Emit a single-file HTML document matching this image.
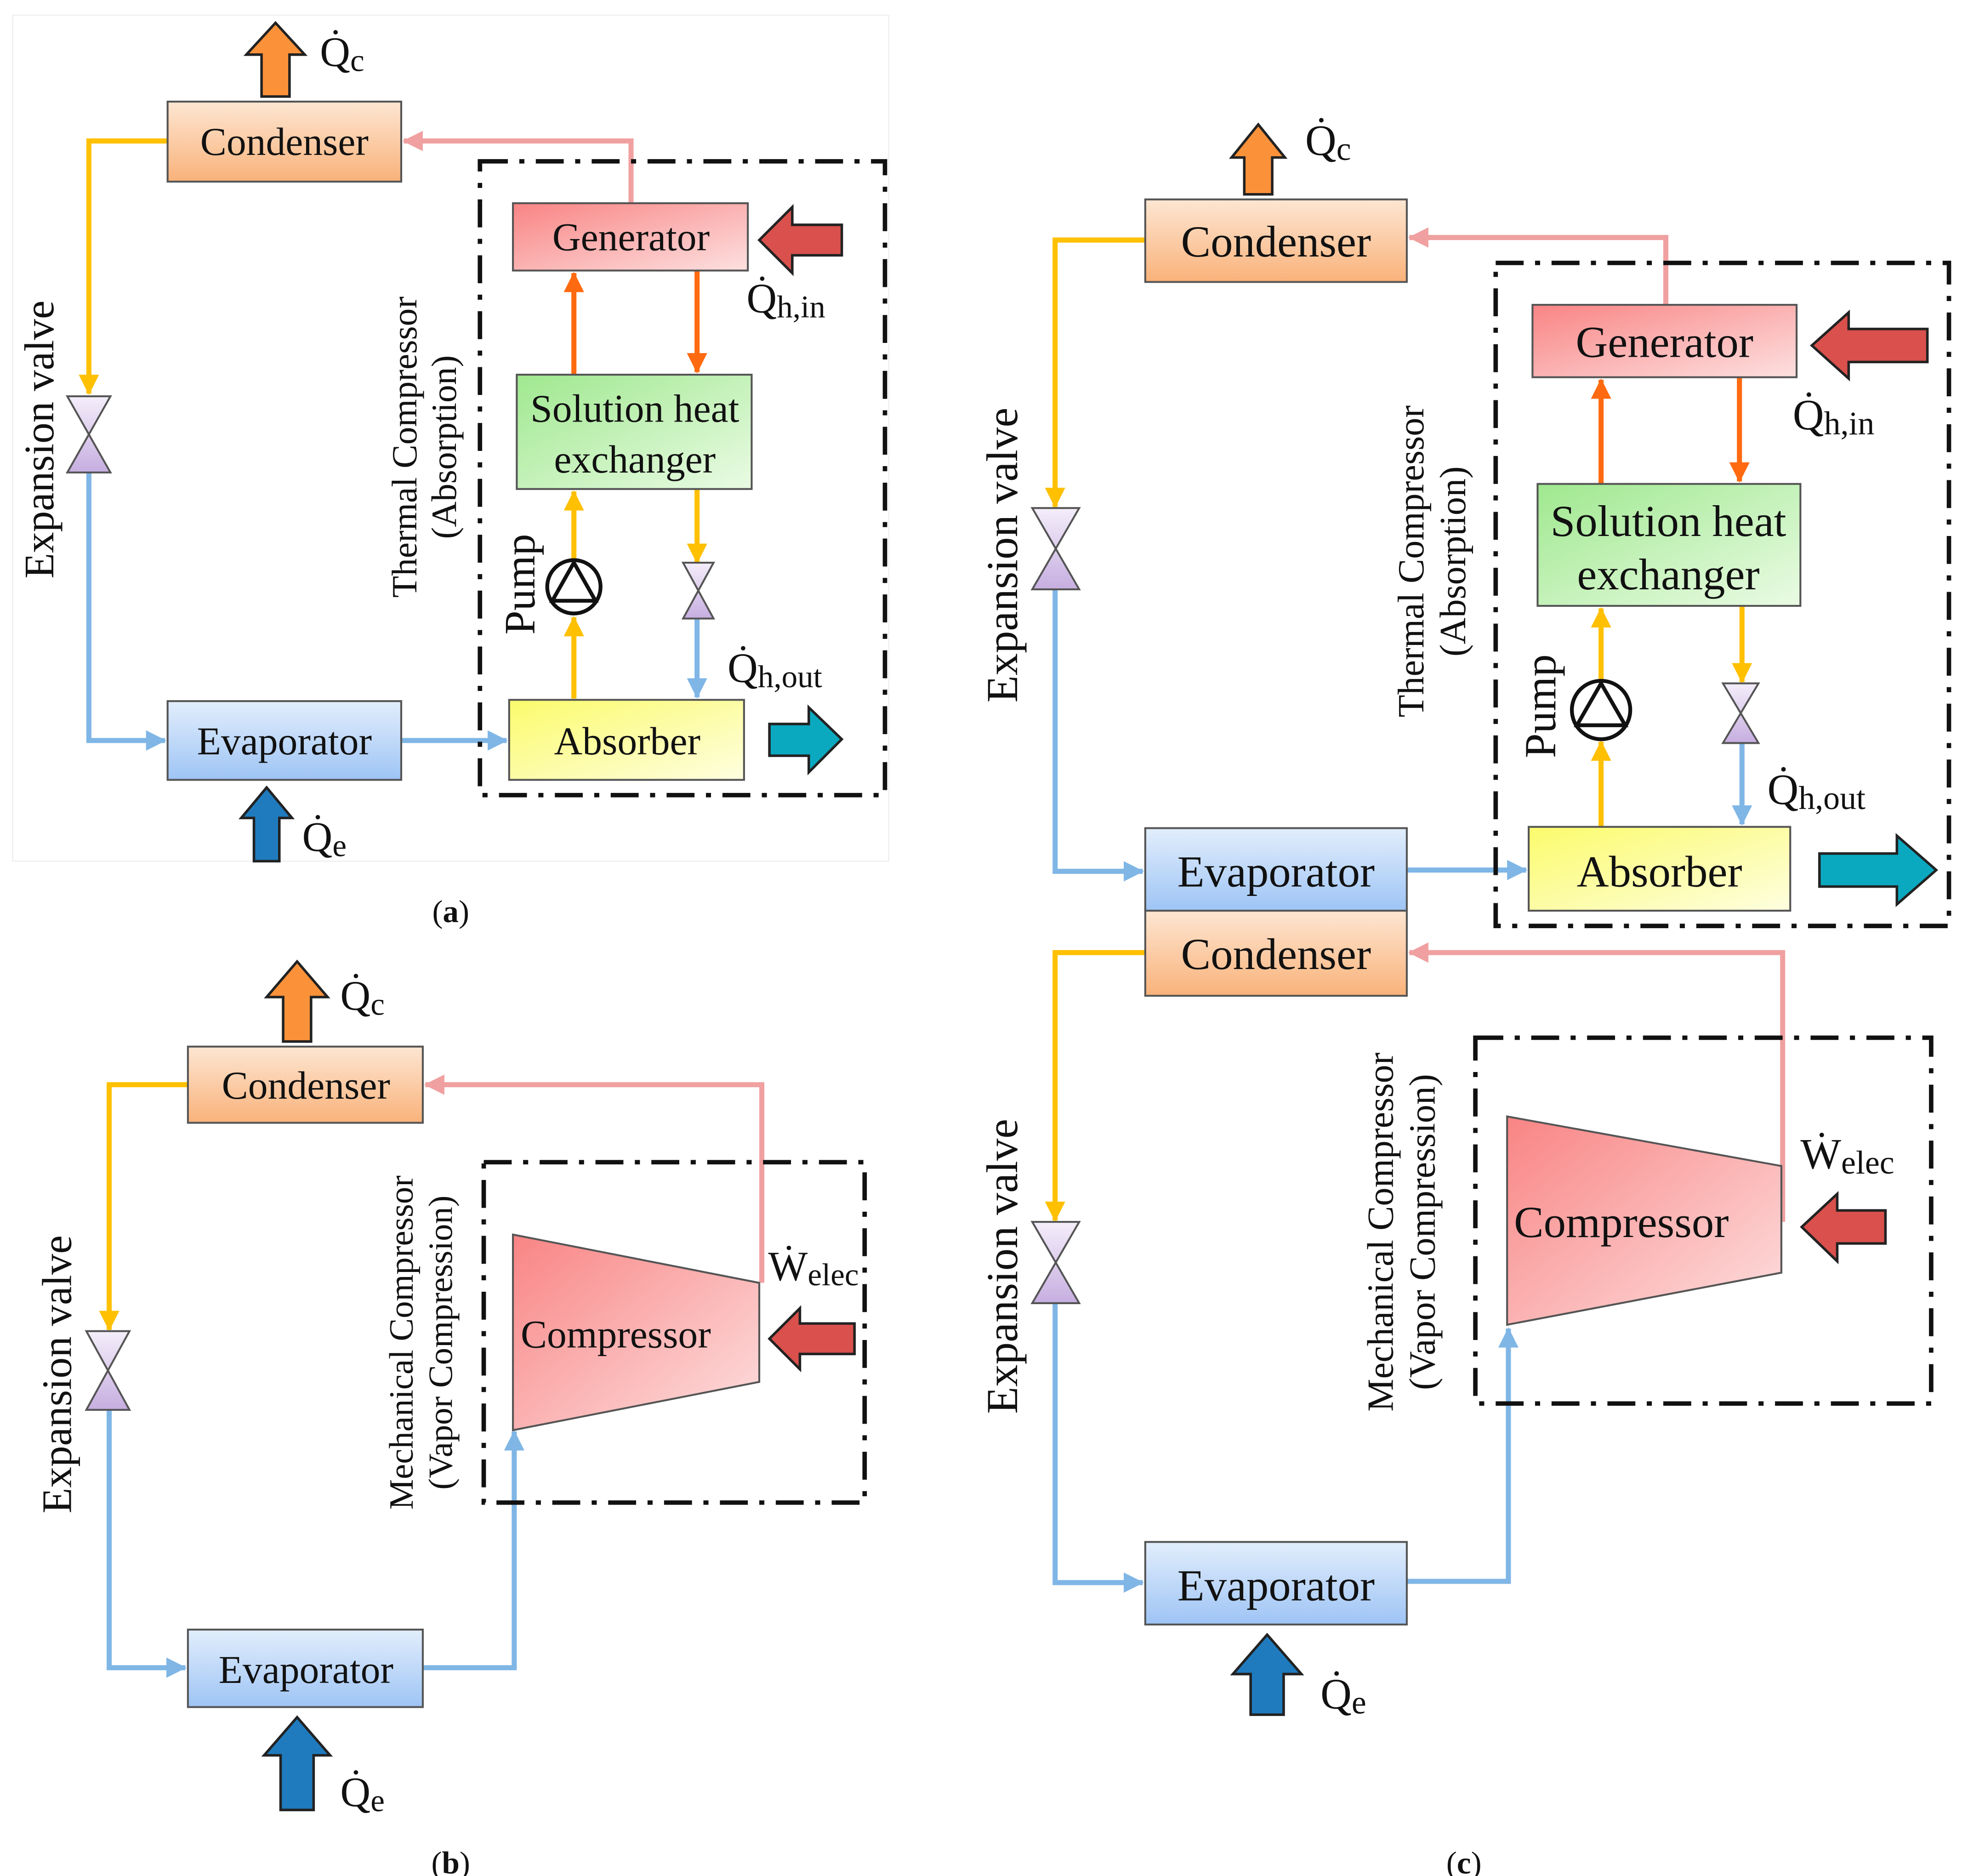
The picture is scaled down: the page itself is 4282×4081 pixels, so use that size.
<!DOCTYPE html>
<html><head><meta charset="utf-8"><style>
html,body{margin:0;padding:0;background:#fff;}
svg{display:block;}
text{font-family:"Liberation Serif",serif;fill:#111;}
</style></head><body>
<svg width="4282" height="4081" viewBox="0 0 1550 1477" preserveAspectRatio="none" xmlns="http://www.w3.org/2000/svg">
<defs>
<linearGradient id="gOr" x1="0" y1="0" x2="0" y2="1"><stop offset="0" stop-color="#fde6d2"/><stop offset="1" stop-color="#f9b27a"/></linearGradient>
<linearGradient id="gBl" x1="0" y1="0" x2="0" y2="1"><stop offset="0" stop-color="#e2eefc"/><stop offset="1" stop-color="#9ec4f5"/></linearGradient>
<linearGradient id="gRd" x1="0" y1="0" x2="1" y2="1"><stop offset="0" stop-color="#f98484"/><stop offset="1" stop-color="#fde0e0"/></linearGradient>
<linearGradient id="gGr" x1="0" y1="0" x2="1" y2="1"><stop offset="0" stop-color="#9fe88f"/><stop offset="1" stop-color="#eafbe4"/></linearGradient>
<linearGradient id="gYe" x1="0" y1="0" x2="1" y2="1"><stop offset="0" stop-color="#fbfb6c"/><stop offset="1" stop-color="#fefee0"/></linearGradient>
<linearGradient id="gVt" x1="0" y1="0" x2="0" y2="1"><stop offset="0" stop-color="#f4eefa"/><stop offset="1" stop-color="#c6aee0"/></linearGradient>
<marker id="mB" markerWidth="16" markerHeight="16" refX="15" refY="8" orient="auto" markerUnits="userSpaceOnUse"><path d="M0,0 L16,8 L0,16 Z" fill="#7fb6e6"/></marker>
<marker id="mYe" markerWidth="16" markerHeight="16" refX="15" refY="8" orient="auto" markerUnits="userSpaceOnUse"><path d="M0,0 L16,8 L0,16 Z" fill="#ffc000"/></marker>
<marker id="mO" markerWidth="16" markerHeight="16" refX="15" refY="8" orient="auto" markerUnits="userSpaceOnUse"><path d="M0,0 L16,8 L0,16 Z" fill="#ff6a10"/></marker>
<marker id="mP" markerWidth="16" markerHeight="16" refX="15" refY="8" orient="auto" markerUnits="userSpaceOnUse"><path d="M0,0 L16,8 L0,16 Z" fill="#f0a0a0"/></marker>
</defs>

<rect x="10" y="12" width="690" height="666" fill="none" stroke="#f0f0f0" stroke-width="1"/>

<g stroke-width="4" fill="none">
<polyline points="132,111 70,111 70,310" stroke="#ffc000" marker-end="url(#mYe)"/>
<polyline points="70,372 70,583 130,583" stroke="#7fb6e6" marker-end="url(#mB)"/>
<polyline points="316,583 399,583" stroke="#7fb6e6" marker-end="url(#mB)"/>
<polyline points="497,160 497,111 318,111" stroke="#f0a0a0" marker-end="url(#mP)"/>
<line x1="452" y1="295" x2="452" y2="215" stroke="#ff6a10" marker-end="url(#mO)"/>
<line x1="549" y1="213" x2="549" y2="293" stroke="#ff6a10" marker-end="url(#mO)"/>
<line x1="452" y1="550" x2="452" y2="486" stroke="#ffc000" marker-end="url(#mYe)"/>
<line x1="452" y1="440" x2="452" y2="387" stroke="#ffc000" marker-end="url(#mYe)"/>
<line x1="549" y1="385" x2="549" y2="443" stroke="#ffc000" marker-end="url(#mYe)"/>
<line x1="549" y1="487" x2="549" y2="549" stroke="#7fb6e6" marker-end="url(#mB)"/>

<polyline points="148,854 86,854 86,1047" stroke="#ffc000" marker-end="url(#mYe)"/>
<polyline points="86,1110 86,1313 146,1313" stroke="#7fb6e6" marker-end="url(#mB)"/>
<polyline points="333,1313 405,1313 405,1127" stroke="#7fb6e6" marker-end="url(#mB)"/>
<polyline points="600,1010 600,854 335,854" stroke="#f0a0a0" marker-end="url(#mP)"/>

<polyline points="902,189 831,189 831,399" stroke="#ffc000" marker-end="url(#mYe)"/>
<polyline points="831,464 831,686 900,686" stroke="#7fb6e6" marker-end="url(#mB)"/>
<polyline points="1108,685 1202,685" stroke="#7fb6e6" marker-end="url(#mB)"/>
<polyline points="1312,240 1312,187 1110,187" stroke="#f0a0a0" marker-end="url(#mP)"/>
<line x1="1261" y1="381" x2="1261" y2="299" stroke="#ff6a10" marker-end="url(#mO)"/>
<line x1="1370" y1="297" x2="1370" y2="379" stroke="#ff6a10" marker-end="url(#mO)"/>
<line x1="1261" y1="651" x2="1261" y2="584" stroke="#ffc000" marker-end="url(#mYe)"/>
<line x1="1261" y1="535" x2="1261" y2="479" stroke="#ffc000" marker-end="url(#mYe)"/>
<line x1="1372" y1="477" x2="1372" y2="537" stroke="#ffc000" marker-end="url(#mYe)"/>
<line x1="1372" y1="585" x2="1372" y2="649" stroke="#7fb6e6" marker-end="url(#mB)"/>
<polyline points="902,750 831,750 831,961" stroke="#ffc000" marker-end="url(#mYe)"/>
<polyline points="831,1026 831,1246 900,1246" stroke="#7fb6e6" marker-end="url(#mB)"/>
<polyline points="1108,1245 1188,1245 1188,1046" stroke="#7fb6e6" marker-end="url(#mB)"/>
<polyline points="1404,962 1404,750 1110,750" stroke="#f0a0a0" marker-end="url(#mP)"/>
</g>

<g fill="none" stroke="#111" stroke-width="3.5" stroke-dasharray="22,9,4,9">
<rect x="378" y="127" width="319" height="499"/>
<rect x="381" y="915" width="300" height="268"/>
<rect x="1178" y="207" width="357" height="522"/>
<rect x="1162" y="817" width="359" height="288"/>
</g>

<g stroke="#555" stroke-width="1.5">
<rect x="132" y="80" width="184" height="63" fill="url(#gOr)"/>
<rect x="132" y="552" width="184" height="62" fill="url(#gBl)"/>
<rect x="404" y="160" width="185" height="53" fill="url(#gRd)"/>
<rect x="407" y="295" width="185" height="90" fill="url(#gGr)"/>
<rect x="401" y="551" width="185" height="63" fill="url(#gYe)"/>
<rect x="148" y="824" width="185" height="60" fill="url(#gOr)"/>
<rect x="148" y="1283" width="185" height="61" fill="url(#gBl)"/>
<polygon points="404,972 598,1010 598,1088 404,1126" fill="url(#gRd)"/>
<rect x="902" y="157" width="206" height="65" fill="url(#gOr)"/>
<rect x="902" y="652" width="206" height="65" fill="url(#gBl)"/>
<rect x="902" y="717" width="206" height="67" fill="url(#gOr)"/>
<rect x="1207" y="240" width="208" height="57" fill="url(#gRd)"/>
<rect x="1211" y="381" width="207" height="96" fill="url(#gGr)"/>
<rect x="1204" y="651" width="206" height="66" fill="url(#gYe)"/>
<rect x="902" y="1214" width="206" height="65" fill="url(#gBl)"/>
<polygon points="1187,879 1403,918 1403,1002 1187,1043" fill="url(#gRd)"/>
</g>

<g stroke="#555" stroke-width="1.5" fill="url(#gVt)">
<polygon points="53,312 87,312 53,372 87,372"/>
<polygon points="538,443 562,443 538,487 562,487"/>
<polygon points="68,1048 102,1048 68,1110 102,1110"/>
<polygon points="813,400 850,400 813,464 850,464"/>
<polygon points="1357,538 1385,538 1357,585 1385,585"/>
<polygon points="813,962 850,962 813,1026 850,1026"/>
</g>

<g fill="#fff" stroke="#111" stroke-width="3">
<circle cx="452" cy="462" r="21"/>
<polygon points="452,443 469,473 435,473" fill="none"/>
<circle cx="1261" cy="559" r="23"/>
<polygon points="1261,538 1280,571 1242,571" fill="none"/>
</g>

<g stroke="#222" stroke-width="2">
<polygon fill="#fb923a" points="217,18 240,43 228,43 228,76 206,76 206,43 194,43"/>
<polygon fill="#1f7bbd" points="210,620 230,644 220,644 220,678 200,678 200,644 190,644"/>
<polygon fill="#fb923a" points="234,757 258,785 245,785 245,820 223,820 223,785 210,785"/>
<polygon fill="#1f7bbd" points="234,1352 260,1382 247,1382 247,1425 221,1425 221,1382 208,1382"/>
<polygon fill="#fb923a" points="991,98 1012,124 1002,124 1002,153 980,153 980,124 970,124"/>
<polygon fill="#1f7bbd" points="998,1287 1025,1318 1011,1318 1011,1350 985,1350 985,1318 971,1318"/>
<polygon fill="#d9504c" points="598,189 624,163 624,177 663,177 663,201 624,201 624,215"/>
<polygon fill="#d9504c" points="606,1054 630,1030 630,1042 673,1042 673,1066 630,1066 630,1078"/>
<polygon fill="#d9504c" points="1427,272 1456,246 1456,259 1518,259 1518,285 1456,285 1456,298"/>
<polygon fill="#d9504c" points="1419,966 1447,940 1447,953 1485,953 1485,979 1447,979 1447,993"/>
<polygon fill="#0aa9c0" points="663,582 637,557 637,570 606,570 606,595 637,595 637,608"/>
<polygon fill="#0aa9c0" points="1525,685 1494,658 1494,672 1433,672 1433,698 1494,698 1494,712"/>
</g>

<g font-size="31" text-anchor="middle">
<text x="224" y="122">Condenser</text>
<text x="224" y="594">Evaporator</text>
<text x="497" y="197">Generator</text>
<text x="500" y="332">Solution heat</text>
<text x="500" y="372">exchanger</text>
<text x="494" y="594">Absorber</text>
<text x="241" y="865">Condenser</text>
<text x="241" y="1325">Evaporator</text>
<text x="485" y="1061">Compressor</text>
</g>
<g font-size="35" text-anchor="middle">
<text x="1005" y="202">Condenser</text>
<text x="1005" y="698">Evaporator</text>
<text x="1005" y="763">Condenser</text>
<text x="1311" y="281">Generator</text>
<text x="1314" y="422">Solution heat</text>
<text x="1314" y="464">exchanger</text>
<text x="1307" y="698">Absorber</text>
<text x="1005" y="1260">Evaporator</text>
<text x="1277" y="974">Compressor</text>
</g>

<g font-size="33">
<text x="252" y="52">Q̇<tspan font-size="25" dy="4">c</tspan></text>
<text x="238" y="670">Q̇<tspan font-size="25" dy="4">e</tspan></text>
<text x="588" y="246">Q̇<tspan font-size="25" dy="4">h,in</tspan></text>
<text x="573" y="537">Q̇<tspan font-size="25" dy="4">h,out</tspan></text>
<text x="268" y="795">Q̇<tspan font-size="25" dy="4">c</tspan></text>
<text x="268" y="1422">Q̇<tspan font-size="25" dy="4">e</tspan></text>
<text x="605" y="1008">Ẇ<tspan font-size="25" dy="4">elec</tspan></text>
</g>
<g font-size="34">
<text x="1028" y="122">Q̇<tspan font-size="26" dy="4">c</tspan></text>
<text x="1412" y="338">Q̇<tspan font-size="26" dy="4">h,in</tspan></text>
<text x="1392" y="633">Q̇<tspan font-size="26" dy="4">h,out</tspan></text>
<text x="1418" y="920">Ẇ<tspan font-size="26" dy="4">elec</tspan></text>
<text x="1040" y="1345">Q̇<tspan font-size="26" dy="4">e</tspan></text>
</g>

<g text-anchor="middle">
<text font-size="33" transform="translate(42,346) rotate(-90)">Expansion valve</text>
<text font-size="33" transform="translate(56,1082) rotate(-90)">Expansion valve</text>
<text font-size="35" transform="translate(801,437) rotate(-90)">Expansion valve</text>
<text font-size="35" transform="translate(801,997) rotate(-90)">Expansion valve</text>
<text font-size="28" transform="translate(328,352) rotate(-90)">Thermal Compressor</text>
<text font-size="28" transform="translate(359,352) rotate(-90)">(Absorption)</text>
<text font-size="34" transform="translate(421,460) rotate(-90)">Pump</text>
<text font-size="27" transform="translate(325,1057) rotate(-90)">Mechanical Compressor</text>
<text font-size="27" transform="translate(356,1057) rotate(-90)">(Vapor Compression)</text>
<text font-size="29" transform="translate(1121,442) rotate(-90)">Thermal Compressor</text>
<text font-size="29" transform="translate(1154,442) rotate(-90)">(Absorption)</text>
<text font-size="35" transform="translate(1225,556) rotate(-90)">Pump</text>
<text font-size="29" transform="translate(1097,970) rotate(-90)">Mechanical Compressor</text>
<text font-size="29" transform="translate(1130,970) rotate(-90)">(Vapor Compression)</text>
</g>

<g font-size="25" text-anchor="middle">
<text x="355" y="726">(<tspan font-weight="bold">a</tspan>)</text>
<text x="355" y="1475">(<tspan font-weight="bold">b</tspan>)</text>
<text x="1153" y="1475">(<tspan font-weight="bold">c</tspan>)</text>
</g>
</svg>
</body></html>
